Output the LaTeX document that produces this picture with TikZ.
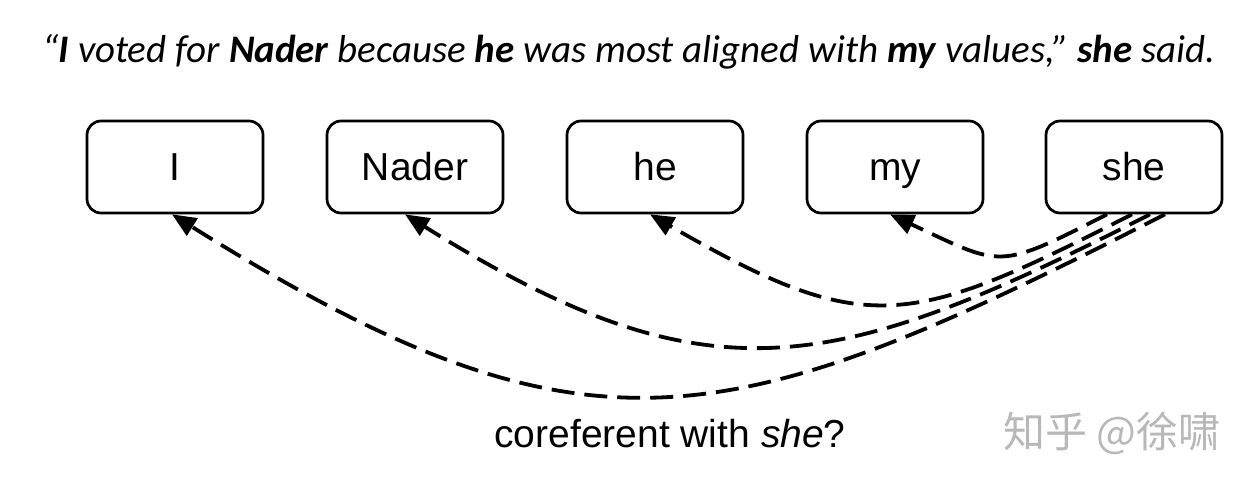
\documentclass[tikz,border=0pt]{standalone}
\usepackage{fontspec}
\setmainfont{Liberation Sans}
\newfontfamily\calibrifont{Carlito}
\newfontfamily\cjkfont{Noto Sans CJK SC}
\usetikzlibrary{arrows.meta}

\tikzset{
  word/.style={draw=black,rounded corners=7pt,line width=1.35pt,minimum width=88pt,minimum height=46pt,inner sep=0pt,text height=14pt,text depth=0pt,font=\fontsize{19.5}{22}\selectfont},
  coref/.style={line width=1.9pt,dash pattern=on 11.5pt off 5pt,-{Triangle[length=12pt,width=10pt]}}
}

\begin{document}
\begin{tikzpicture}[x=0.5pt,y=-0.5pt]
\useasboundingbox (0,0) rectangle (1256,486);
\node[anchor=base,font=\calibrifont\itshape\fontsize{19.5}{22}\selectfont] (sentence) at (629,63) {“\textbf{I} voted for \textbf{Nader} because \textbf{he} was most aligned with \textbf{my} values,” \textbf{she} said.};
\node[word] (I) at (175,167) {I};
\node[word] (nader) at (415,167) {Nader};
\node[word] (he) at (655,167) {he};
\node[word] (my) at (895,167) {my};
\node[word] (she) at (1134,167) {she};
\draw[coref] ([xshift=15.5pt]she.south) to[out=207,in=328,looseness=1.27] ([xshift=-1.5pt]I.south);
\draw[coref] ([xshift=8pt]she.south) to[out=207,in=328,looseness=1.23] ([xshift=-5pt]nader.south);
\draw[coref] ([xshift=-1pt]she.south) to[out=207,in=330,looseness=1.33] ([xshift=-2.5pt]he.south);
\draw[coref] ([xshift=-13.5pt]she.south) to[out=207,in=335,looseness=1.47] ([xshift=-2.5pt]my.south);
\node[anchor=base,font=\fontsize{19.5}{22}\selectfont] (question) at (670,447) {coreferent with \textit{she}?};
\node[anchor=base,text=black!28,font=\cjkfont\fontsize{21}{24}\selectfont] (mark) at (1112,447) {知乎 @徐啸};
\end{tikzpicture}
\end{document}
